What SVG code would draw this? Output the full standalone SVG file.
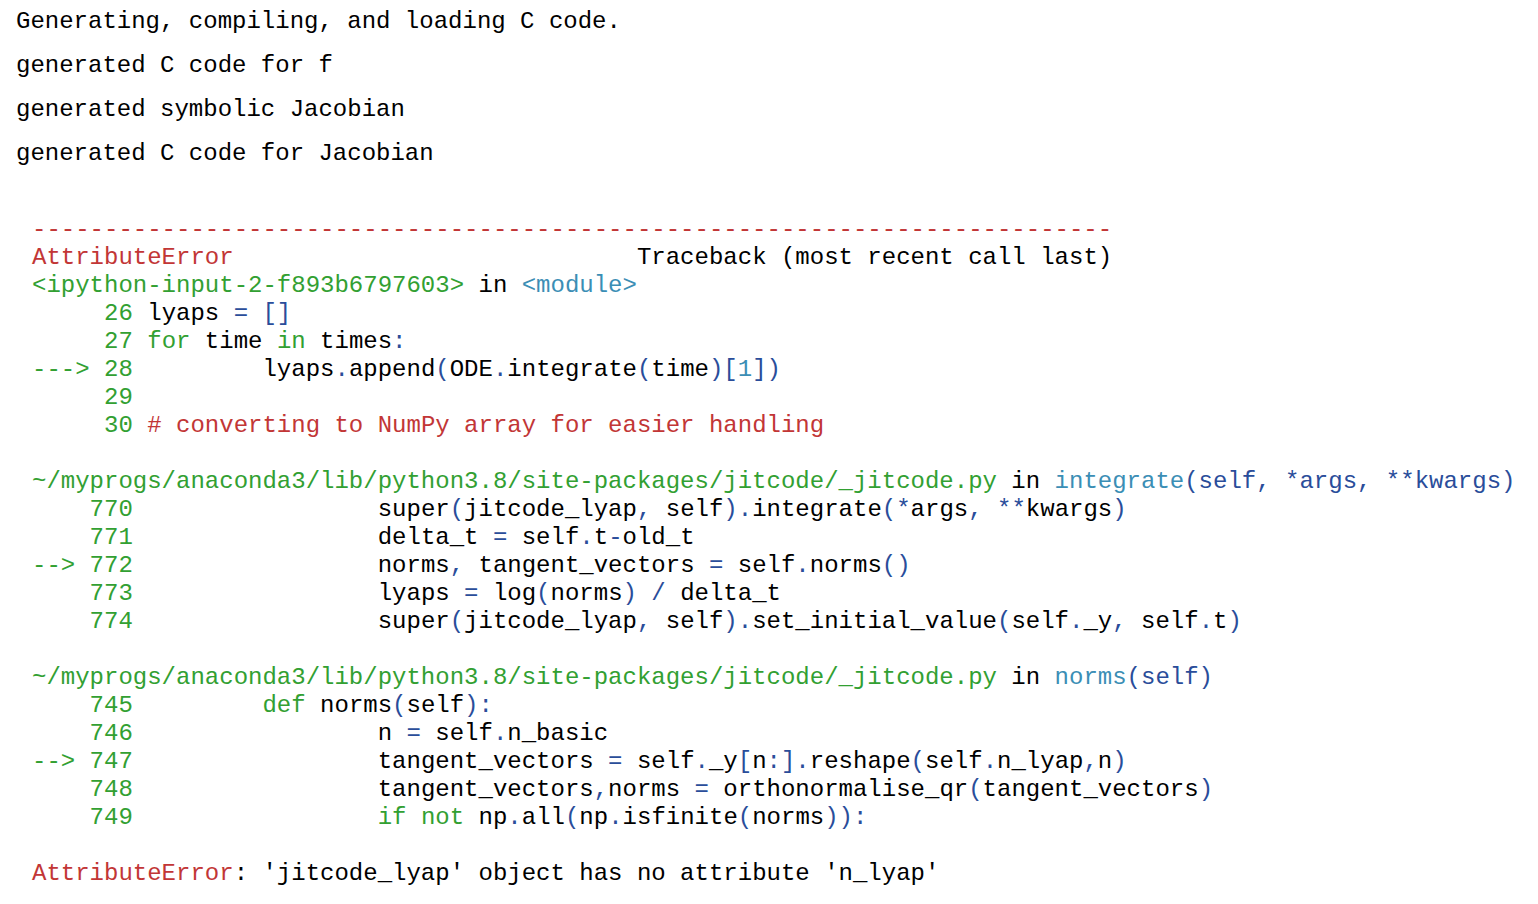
<svg xmlns="http://www.w3.org/2000/svg" width="1538" height="904" viewBox="0 0 1538 904">
<style>
text{font-family:"Liberation Mono","DejaVu Sans Mono",monospace;font-size:24px;fill:#000;white-space:pre}
.r{fill:#c23636}.g{fill:#32a032}.b{fill:#2a4d9a}.c{fill:#3b8eb5}
</style>
<rect width="1538" height="904" fill="#fff"/>
<g id="output" xml:space="preserve">
<text x="16" y="28">Generating, compiling, and loading C code.</text>
<text x="16" y="72">generated C code for f</text>
<text x="16" y="116">generated symbolic Jacobian</text>
<text x="16" y="160">generated C code for Jacobian</text>
</g>
<g id="traceback" xml:space="preserve">
<text x="32" y="236" class="r">---------------------------------------------------------------------------</text>
<text x="32" y="264"><tspan class="r">AttributeError</tspan>                            Traceback (most recent call last)</text>
<text x="32" y="292"><tspan class="g">&lt;ipython-input-2-f893b6797603&gt;</tspan> in <tspan class="c">&lt;module&gt;</tspan></text>
<text x="32" y="320"><tspan class="g">     26</tspan> lyaps <tspan class="b">=</tspan> <tspan class="b">[]</tspan></text>
<text x="32" y="348"><tspan class="g">     27</tspan> <tspan class="g">for</tspan> time <tspan class="g">in</tspan> times<tspan class="b">:</tspan></text>
<text x="32" y="376"><tspan class="g">---&gt; 28</tspan>         lyaps<tspan class="b">.</tspan>append<tspan class="b">(</tspan>ODE<tspan class="b">.</tspan>integrate<tspan class="b">(</tspan>time<tspan class="b">)[</tspan><tspan class="c">1</tspan><tspan class="b">])</tspan></text>
<text x="32" y="404"><tspan class="g">     29</tspan></text>
<text x="32" y="432"><tspan class="g">     30</tspan> <tspan class="r"># converting to NumPy array for easier handling</tspan></text>
<text x="32" y="488"><tspan class="g">~/myprogs/anaconda3/lib/python3.8/site-packages/jitcode/_jitcode.py</tspan> in <tspan class="c">integrate</tspan><tspan class="b">(self, *args, **kwargs)</tspan></text>
<text x="32" y="516"><tspan class="g">    770</tspan>                 super<tspan class="b">(</tspan>jitcode_lyap<tspan class="b">,</tspan> self<tspan class="b">).</tspan>integrate<tspan class="b">(*</tspan>args<tspan class="b">,</tspan> <tspan class="b">**</tspan>kwargs<tspan class="b">)</tspan></text>
<text x="32" y="544"><tspan class="g">    771</tspan>                 delta_t <tspan class="b">=</tspan> self<tspan class="b">.</tspan>t<tspan class="b">-</tspan>old_t</text>
<text x="32" y="572"><tspan class="g">--&gt; 772</tspan>                 norms<tspan class="b">,</tspan> tangent_vectors <tspan class="b">=</tspan> self<tspan class="b">.</tspan>norms<tspan class="b">()</tspan></text>
<text x="32" y="600"><tspan class="g">    773</tspan>                 lyaps <tspan class="b">=</tspan> log<tspan class="b">(</tspan>norms<tspan class="b">)</tspan> <tspan class="b">/</tspan> delta_t</text>
<text x="32" y="628"><tspan class="g">    774</tspan>                 super<tspan class="b">(</tspan>jitcode_lyap<tspan class="b">,</tspan> self<tspan class="b">).</tspan>set_initial_value<tspan class="b">(</tspan>self<tspan class="b">.</tspan>_y<tspan class="b">,</tspan> self<tspan class="b">.</tspan>t<tspan class="b">)</tspan></text>
<text x="32" y="684"><tspan class="g">~/myprogs/anaconda3/lib/python3.8/site-packages/jitcode/_jitcode.py</tspan> in <tspan class="c">norms</tspan><tspan class="b">(self)</tspan></text>
<text x="32" y="712"><tspan class="g">    745</tspan>         <tspan class="g">def</tspan> norms<tspan class="b">(</tspan>self<tspan class="b">):</tspan></text>
<text x="32" y="740"><tspan class="g">    746</tspan>                 n <tspan class="b">=</tspan> self<tspan class="b">.</tspan>n_basic</text>
<text x="32" y="768"><tspan class="g">--&gt; 747</tspan>                 tangent_vectors <tspan class="b">=</tspan> self<tspan class="b">.</tspan>_y<tspan class="b">[</tspan>n<tspan class="b">:].</tspan>reshape<tspan class="b">(</tspan>self<tspan class="b">.</tspan>n_lyap<tspan class="b">,</tspan>n<tspan class="b">)</tspan></text>
<text x="32" y="796"><tspan class="g">    748</tspan>                 tangent_vectors<tspan class="b">,</tspan>norms <tspan class="b">=</tspan> orthonormalise_qr<tspan class="b">(</tspan>tangent_vectors<tspan class="b">)</tspan></text>
<text x="32" y="824"><tspan class="g">    749</tspan>                 <tspan class="g">if</tspan> <tspan class="g">not</tspan> np<tspan class="b">.</tspan>all<tspan class="b">(</tspan>np<tspan class="b">.</tspan>isfinite<tspan class="b">(</tspan>norms<tspan class="b">)):</tspan></text>
<text x="32" y="880"><tspan class="r">AttributeError</tspan>: 'jitcode_lyap' object has no attribute 'n_lyap'</text>
</g>
</svg>
